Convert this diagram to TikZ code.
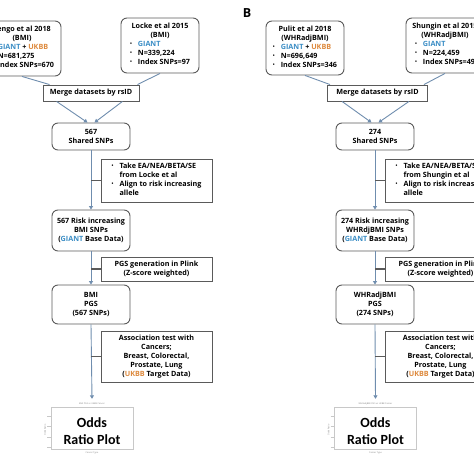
\documentclass[tikz,border=0pt]{standalone}
\usepackage{fontspec}
\usepackage{graphicx}
\setmainfont{Open Sans}
\newfontfamily\plotfont{Carlito}
\usetikzlibrary{calc,arrows.meta}
\definecolor{giantblue}{HTML}{3A8DC5}
\definecolor{ukbborange}{HTML}{DE8A3E}
\definecolor{flowline}{HTML}{6F8DAE}
\definecolor{boxline}{HTML}{5A5A5A}
\definecolor{plotgray}{HTML}{C8C8C8}
\newcommand{\gnt}{\textcolor{giantblue}{GIANT}}
\newcommand{\ukb}{\textcolor{ukbborange}{UKBB}}
\newcommand{\bu}{\raisebox{0.25ex}{\scalebox{0.7}{\textbullet}}}
\newcommand{\blist}[1]{\begin{tabular}[t]{@{}l@{\hspace{6pt}}l@{}}#1\end{tabular}}
\begin{document}
\begin{tikzpicture}[x=1pt,y=-1pt,
  font=\bfseries\fontsize{7.2}{9}\selectfont,
  roundbox/.style={draw=boxline, line width=0.9pt, rounded corners=6pt, fill=white,
    minimum width=78pt, inner sep=0pt, align=center},
  squarebox/.style={draw=boxline, line width=0.9pt, fill=white, inner sep=0pt, align=center},
  flow/.style={draw=flowline, line width=0.9pt, -{Triangle[width=4pt,length=3.5pt]}},
  plainflow/.style={draw=flowline, line width=0.9pt},
  tickline/.style={draw=boxline, line width=1.3pt},
  plotframe/.style={draw=plotgray, line width=0.4pt, minimum width=82pt, minimum height=42pt, inner sep=0pt},
  bigtext/.style={font=\plotfont\bfseries\fontsize{14}{17}\selectfont, align=center, inner sep=0pt},
  tinytext/.style={font=\fontsize{2.2}{2.5}\selectfont, text=gray, inner sep=0pt}
]
\useasboundingbox (0,0) rectangle (474,474);
\clip (0,0) rectangle (474,474);

% ---------------- Panel A (left) ----------------
\node[roundbox, minimum height=55pt] (yengo) at (22,48.5)
  {Yengo et al 2018\\(BMI)\\\blist{\bu&\gnt{} + \ukb\\\bu&N=681,275\\\bu&Index SNPs=670}};
\node[roundbox, minimum height=55pt] (locke) at (160,45.5)
  {Locke et al 2015\\(BMI)\\\blist{\bu&\gnt\\\bu&N=339,224\\\bu&Index SNPs=97}};
\node[squarebox, minimum width=96pt, minimum height=16pt] (mergeL) at (91,93) {Merge datasets by rsID};
\node[roundbox, minimum height=27pt] (sharedL) at (91,136.5) {567\\Shared SNPs};
\node[squarebox, minimum width=111pt, minimum height=43pt] (takeL) at (156.5,180.5)
  {\blist{\bu&Take EA/NEA/BETA/SE\\&from Locke et al\\\bu&Align to risk increasing\\&allele}};
\node[roundbox, minimum height=41pt] (riskL) at (91,230.5) {567 Risk increasing\\BMI SNPs\\(\gnt{} Base Data)};
\node[squarebox, minimum width=111pt, minimum height=24pt] (pgsgenL) at (156.5,269) {PGS generation in Plink\\(Z-score weighted)};
\node[roundbox, minimum height=39pt] (pgsL) at (91,304.5) {BMI\\PGS\\(567 SNPs)};
\node[squarebox, minimum width=111pt, minimum height=51pt] (assocL) at (156.5,356.5)
  {Association test with\\Cancers;\\Breast, Colorectal,\\Prostate, Lung\\(\ukb{} Target Data)};
\node[plotframe] (plotL) at (92,428) {};
\node[bigtext] (oddsL) at (92,431) {Odds\\Ratio Plot};
\node[tinytext] (titleL) at (92,404) {BMI PGS vs UKBB Cancer};
\node[tinytext, rotate=90] (ylabL) at (45,430) {Odds Ratio};
\node[tinytext] (xlabL) at (92,453) {Cancer Type};
\foreach \yy in {416,426,437,447} \draw[plotgray, line width=0.4pt] (47,\yy) -- (51,\yy);

\draw[plainflow] (yengo.south) -- ($(mergeL.north west)+(7,0)$);
\draw[plainflow] (locke.south) -- ($(mergeL.north east)+(-2,0)$);
\draw[flow] ($(mergeL.south west)+(14,0)$) -- ($(sharedL.north)+(-3.5,0)$);
\draw[flow] ($(mergeL.south east)+(-17,0)$) -- ($(sharedL.north)+(3.5,0)$);
\draw[flow] (sharedL.south) -- (riskL.north);
\draw[flow] (riskL.south) -- (pgsL.north);
\draw[flow] (pgsL.south) -- ($(plotL.north)+(0,-8)$);
\draw[tickline] (takeL.west) -- (takeL.west -| sharedL.south);
\draw[tickline] (pgsgenL.west) -- (pgsgenL.west -| sharedL.south);
\draw[tickline] (assocL.west) -- (assocL.west -| sharedL.south);

% ---------------- Panel B (right) ----------------
\node[font=\bfseries\fontsize{12.5}{14}\selectfont, inner sep=0pt] (labelB) at (247,13) {B};
\node[roundbox, minimum height=54pt] (pulit) at (305,48)
  {Pulit et al 2018\\(WHRadjBMI)\\\blist{\bu&\gnt{} + \ukb\\\bu&N=696,649\\\bu&Index SNPs=346}};
\node[roundbox, minimum height=55pt] (shungin) at (445,45.5)
  {Shungin et al 2015\\(WHRadjBMI)\\\blist{\bu&\gnt\\\bu&N=224,459\\\bu&Index SNPs=49}};
\node[squarebox, minimum width=100pt, minimum height=16pt] (mergeR) at (377.5,93) {Merge datasets by rsID};
\node[roundbox, minimum height=27pt] (sharedR) at (375,136.5) {274\\Shared SNPs};
\node[squarebox, minimum width=111pt, minimum height=43pt] (takeR) at (440.5,180.5)
  {\blist{\bu&Take EA/NEA/BETA/SE\\&from Shungin et al\\\bu&Align to risk increasing\\&allele}};
\node[roundbox, minimum height=41pt] (riskR) at (375,230.5) {274 Risk increasing\\WHRdjBMI SNPs\\(\gnt{} Base Data)};
\node[squarebox, minimum width=111pt, minimum height=24pt] (pgsgenR) at (440.5,269) {PGS generation in Plink\\(Z-score weighted)};
\node[roundbox, minimum height=39pt] (pgsR) at (375,304.5) {WHRadjBMI\\PGS\\(274 SNPs)};
\node[squarebox, minimum width=111pt, minimum height=51pt] (assocR) at (440.5,356.5)
  {Association test with\\Cancers;\\Breast, Colorectal,\\Prostate, Lung\\(\ukb{} Target Data)};
\node[plotframe] (plotR) at (375.5,428) {};
\node[bigtext] (oddsR) at (375.5,431) {Odds\\Ratio Plot};
\node[tinytext] (titleR) at (375.5,404) {WHRadjBMI PGS vs UKBB Cancer};
\node[tinytext, rotate=90] (ylabR) at (328.5,430) {Odds Ratio};
\node[tinytext] (xlabR) at (375.5,453) {Cancer Type};
\foreach \yy in {416,426,437,447} \draw[plotgray, line width=0.4pt] (330.5,\yy) -- (334.5,\yy);

\draw[plainflow] (pulit.south) -- ($(mergeR.north west)+(3,0)$);
\draw[plainflow] (shungin.south) -- ($(mergeR.north east)+(-4,0)$);
\draw[flow] ($(mergeR.south west)+(15,0)$) -- ($(sharedR.north)+(-3.5,0)$);
\draw[flow] ($(mergeR.south east)+(-19,0)$) -- ($(sharedR.north)+(3.5,0)$);
\draw[flow] (sharedR.south) -- (riskR.north);
\draw[flow] (riskR.south) -- (pgsR.north);
\draw[flow] (pgsR.south) -- ($(plotR.north)+(0,-8)$);
\draw[tickline] (takeR.west) -- (takeR.west -| sharedR.south);
\draw[tickline] (pgsgenR.west) -- (pgsgenR.west -| sharedR.south);
\draw[tickline] (assocR.west) -- (assocR.west -| sharedR.south);
\end{tikzpicture}
\end{document}
